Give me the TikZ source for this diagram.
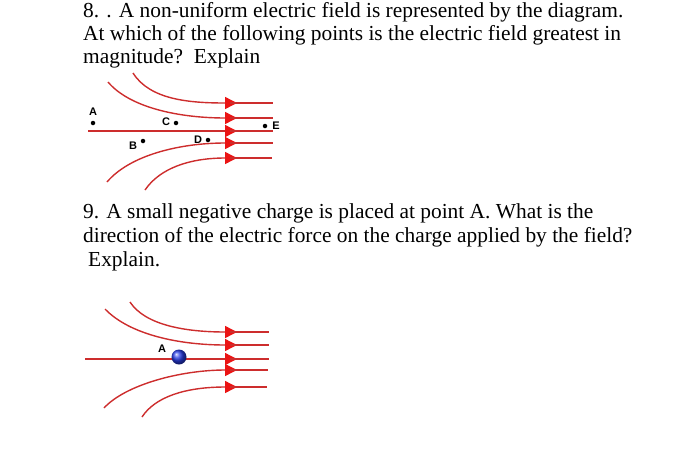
\documentclass[tikz,border=0pt]{standalone}
\usepackage{fontspec}
\setmainfont{Liberation Serif}
\setsansfont{Liberation Sans}
\usetikzlibrary{arrows.meta}
\definecolor{fl}{RGB}{205,45,45}
\definecolor{ar}{RGB}{235,20,20}
\begin{document}
\begin{tikzpicture}[x=1pt,y=-1pt,
  fline/.style={draw=fl,line width=1.4pt},
  farr/.style={fline,-{Triangle[length=12pt,width=12pt,fill=ar,color=ar]}},
  qtext/.style={anchor=west,font=\fontsize{21.4}{25}\selectfont,inner sep=0pt},
  lab/.style={font=\sffamily\bfseries\fontsize{11}{12}\selectfont,inner sep=0pt},
  dot/.style={circle,fill=black,inner sep=0pt,minimum size=4.5pt}]
\useasboundingbox (0,0) rectangle (700,458);
\node[qtext] (q1) at (83,12) {8. . A non-uniform electric field is represented by the diagram.};
\node[qtext] (q2) at (83,35) {At which of the following points is the electric field greatest in};
\node[qtext] (q3) at (83,58) {magnitude?\ \ Explain};
\node[qtext] (q4) at (83,213) {9. A small negative charge is placed at point A. What is the};
\node[qtext] (q5) at (83,237) {direction of the electric force on the charge applied by the field?};
\node[qtext] (q6) at (88,261) {Explain.};
% diagram 1
\draw[farr] (133,73) .. controls (150,100) and (190,103) .. (237,103);
\draw[fline] (230,103) -- (273,103);
\draw[farr] (108,82) .. controls (130,108) and (180,118) .. (237,118);
\draw[fline] (230,118) -- (273,118);
\draw[farr] (88,131) -- (237,131);
\draw[fline] (230,131) -- (273,131);
\draw[farr] (107,182) .. controls (130,155) and (180,143) .. (237,143);
\draw[fline] (230,143) -- (273,143);
\draw[farr] (145,190) .. controls (160,168) and (190,158) .. (237,158);
\draw[fline] (230,158) -- (272,158);
\node[lab] (la) at (93,112) {A}; \node[dot] (da) at (93,123) {};
\node[lab] (lc) at (166,122) {C}; \node[dot] (dc) at (176,123) {};
\node[dot] (de) at (265,126) {}; \node[lab] (le) at (276,126) {E};
\node[lab] (lb) at (133,146) {B}; \node[dot] (db) at (143,141) {};
\node[lab] (ld) at (198,140) {D}; \node[dot] (dd) at (208,140) {};
% diagram 2
\draw[farr] (130,302) .. controls (145,325) and (185,332) .. (237,332);
\draw[fline] (230,332) -- (269,332);
\draw[farr] (105,309) .. controls (130,335) and (180,345) .. (237,345);
\draw[fline] (230,345) -- (269,345);
\draw[farr] (85,359) -- (237,359);
\draw[fline] (230,359) -- (269,359);
\draw[farr] (104,408) .. controls (125,385) and (180,370) .. (237,370);
\draw[fline] (230,370) -- (268,370);
\draw[farr] (142,417) .. controls (155,397) and (185,387) .. (237,387);
\draw[fline] (230,387) -- (267,387);
\node[lab] (lA) at (162,349) {A};
\shade[ball color={rgb,255:red,40;green,60;blue,230}] (179,357) circle (7.5);
\end{tikzpicture}
\end{document}
